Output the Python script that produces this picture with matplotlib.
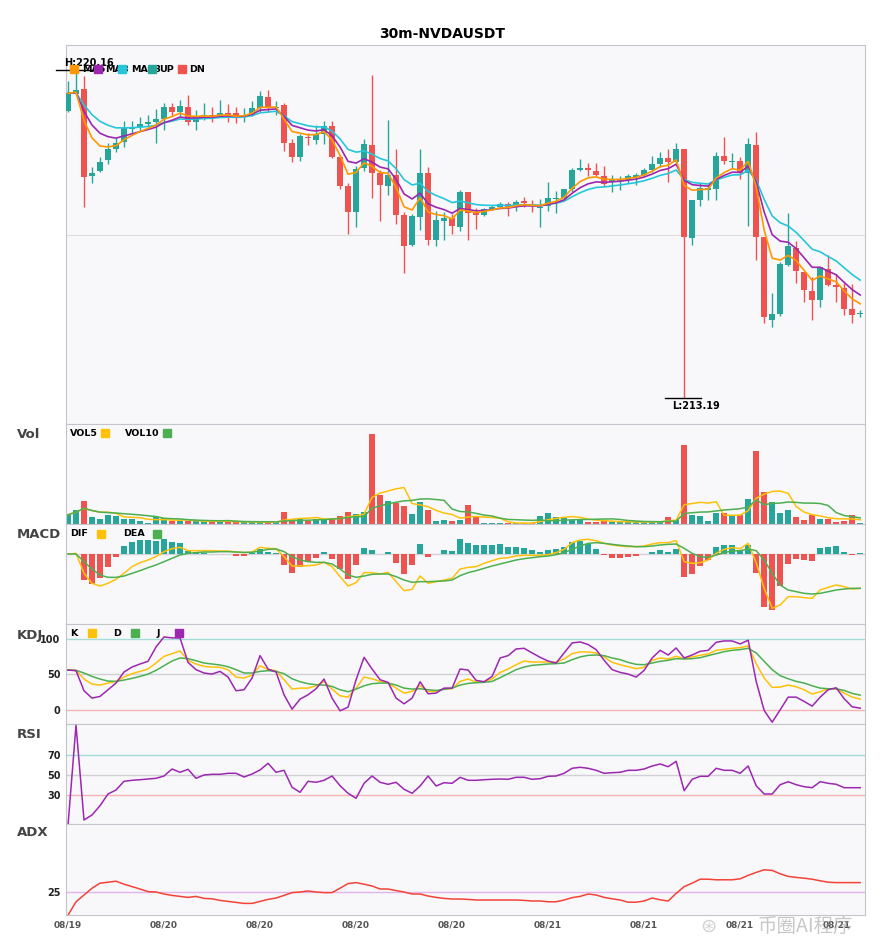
import numpy as np
import pandas as pd
import matplotlib
matplotlib.use("Agg")
import matplotlib.pyplot as plt
from matplotlib.patches import Rectangle

# 30m candles
opens = [219.30, 219.66, 219.77, 217.90, 218.02, 218.25, 218.48, 218.63, 218.92, 218.96,
         219.02, 219.06, 219.13, 219.38, 219.28, 219.38, 219.05, 219.18, 219.21, 219.21,
         219.26, 219.26, 219.16, 219.21, 219.36, 219.60, 219.36, 219.43, 218.62, 218.32,
         218.75, 218.68, 218.81, 218.98, 218.32, 217.69, 217.15, 218.08, 218.57, 217.97,
         217.70, 217.93, 217.07, 216.45, 217.03, 217.97, 216.54, 216.96, 217.02, 216.83,
         217.57, 217.12, 217.07, 217.20, 217.26, 217.32, 217.27, 217.36, 217.31, 217.22,
         217.27, 217.42, 217.44, 217.63, 218.03, 218.08, 218.02, 217.91, 217.79, 217.80,
         217.83, 217.89, 217.93, 218.04, 218.17, 218.30, 218.20, 218.49, 216.59, 217.40,
         217.61, 217.63, 218.34, 218.21, 218.23, 217.98, 218.57, 216.61, 214.84, 214.97,
         216.02, 216.38, 215.86, 215.46, 215.27, 215.93, 215.58, 215.53, 215.08, 214.97]
highs = [219.94, 220.16, 220.04, 218.10, 218.31, 218.61, 218.71, 219.09, 219.08, 219.16,
         219.21, 219.33, 219.47, 219.46, 219.53, 219.64, 219.32, 219.47, 219.39, 219.53,
         219.45, 219.39, 219.36, 219.50, 219.72, 219.75, 219.51, 219.47, 218.70, 218.81,
         218.82, 219.00, 219.08, 219.08, 218.36, 217.76, 218.12, 218.70, 220.06, 218.04,
         219.11, 218.48, 217.15, 217.10, 218.48, 218.10, 217.17, 217.15, 217.10, 217.61,
         217.58, 217.22, 217.22, 217.29, 217.36, 217.36, 217.40, 217.46, 217.40, 217.42,
         217.79, 217.60, 217.63, 218.09, 218.27, 218.18, 218.18, 218.12, 217.93, 217.91,
         217.95, 217.98, 218.08, 218.33, 218.43, 218.48, 218.62, 218.49, 217.40, 217.76,
         217.72, 218.43, 218.75, 218.41, 218.31, 218.73, 218.84, 216.61, 215.41, 216.09,
         217.12, 216.53, 215.87, 215.77, 215.98, 216.23, 215.82, 215.63, 215.61, 215.06]
lows = [219.28, 219.66, 217.26, 217.77, 218.00, 218.17, 218.42, 218.52, 218.81, 218.86,
        218.95, 218.62, 218.89, 219.18, 219.18, 219.00, 218.89, 219.11, 219.05, 219.16,
        219.07, 219.04, 219.07, 219.18, 219.28, 219.28, 219.21, 218.45, 218.20, 218.24,
        218.57, 218.59, 218.59, 218.29, 217.63, 216.68, 216.83, 218.02, 217.44, 216.96,
        217.51, 216.89, 215.85, 216.41, 216.76, 216.44, 216.41, 216.55, 216.68, 216.75,
        216.55, 216.78, 217.05, 217.19, 217.25, 217.06, 217.17, 217.26, 217.15, 216.82,
        217.17, 217.12, 217.40, 217.58, 218.01, 217.90, 217.88, 217.70, 217.58, 217.61,
        217.77, 217.72, 217.90, 218.00, 218.11, 217.79, 218.18, 213.19, 216.44, 217.27,
        217.40, 217.39, 218.17, 218.06, 217.84, 216.85, 216.12, 214.79, 214.69, 214.93,
        216.00, 215.64, 215.23, 214.84, 215.13, 215.57, 215.23, 214.95, 214.79, 214.91]
closes = [219.67, 219.75, 217.88, 217.98, 218.21, 218.49, 218.61, 218.93, 218.96, 219.02,
          219.06, 219.13, 219.38, 219.28, 219.40, 219.07, 219.16, 219.21, 219.16, 219.26,
          219.21, 219.14, 219.21, 219.36, 219.62, 219.37, 219.39, 218.62, 218.32, 218.76,
          218.71, 218.81, 218.98, 218.32, 217.69, 217.15, 218.06, 218.60, 217.97, 217.72,
          217.93, 217.07, 216.43, 217.05, 217.97, 216.54, 216.98, 217.02, 216.85, 217.57,
          217.12, 217.07, 217.20, 217.26, 217.31, 217.25, 217.36, 217.34, 217.27, 217.26,
          217.44, 217.45, 217.63, 218.03, 218.08, 218.03, 217.93, 217.74, 217.83, 217.84,
          217.90, 217.93, 218.04, 218.17, 218.30, 218.20, 218.49, 216.62, 217.40, 217.65,
          217.65, 218.34, 218.22, 218.23, 217.97, 218.60, 216.61, 214.90, 214.97, 216.04,
          216.42, 215.89, 215.48, 215.26, 215.97, 215.59, 215.54, 215.08, 214.95, 214.98]
volumes = [93, 143, 233, 70, 53, 93, 83, 53, 53, 33,
           10, 70, 56, 26, 26, 26, 33, 26, 26, 26,
           26, 16, 16, 16, 16, 26, 16, 123, 53, 63,
           33, 53, 43, 63, 83, 123, 103, 123, 903, 290,
           233, 213, 183, 103, 223, 143, 33, 43, 33, 43,
           193, 67, 10, 10, 10, 13, 7, 7, 7, 83,
           113, 70, 63, 43, 43, 23, 23, 30, 23, 17,
           17, 17, 17, 33, 23, 73, 43, 793, 93, 83,
           33, 113, 113, 93, 93, 253, 733, 323, 223, 113,
           143, 73, 43, 93, 53, 53, 23, 33, 93, 7]

dif = [0, 0.004, -0.116, -0.176, -0.192, -0.176, -0.152, -0.116, -0.076, -0.052,
       -0.036, -0.016, 0.014, 0.032, 0.040, 0.020, 0.020, 0.020, 0.020, 0.018,
       0.018, 0.012, 0.008, 0.012, 0.040, 0.034, 0.032, -0.016, -0.072, -0.072,
       -0.070, -0.066, -0.050, -0.076, -0.136, -0.192, -0.172, -0.112, -0.112, -0.120,
       -0.110, -0.166, -0.220, -0.212, -0.132, -0.176, -0.166, -0.156, -0.146, -0.090,
       -0.080, -0.076, -0.056, -0.040, -0.026, -0.022, -0.012, -0.008, -0.008, -0.008,
       -0.004, 0.008, 0.028, 0.068, 0.084, 0.088, 0.080, 0.064, 0.054, 0.048,
       0.044, 0.044, 0.048, 0.060, 0.068, 0.068, 0.080, -0.046, -0.056, -0.052,
       -0.036, 0.004, 0.028, 0.038, 0.032, 0.064, -0.052, -0.206, -0.326, -0.306,
       -0.256, -0.256, -0.262, -0.266, -0.216, -0.200, -0.186, -0.196, -0.210, -0.206]
dea = [0, 0, -0.046, -0.090, -0.126, -0.140, -0.140, -0.132, -0.116, -0.100,
       -0.082, -0.066, -0.046, -0.026, -0.006, 0.004, 0.008, 0.012, 0.012, 0.014,
       0.014, 0.012, 0.010, 0.010, 0.018, 0.028, 0.030, 0.014, -0.016, -0.036,
       -0.046, -0.050, -0.050, -0.060, -0.090, -0.126, -0.140, -0.132, -0.122, -0.120,
       -0.120, -0.136, -0.156, -0.170, -0.166, -0.166, -0.164, -0.162, -0.156, -0.130,
       -0.112, -0.100, -0.086, -0.072, -0.060, -0.048, -0.036, -0.028, -0.022, -0.016,
       -0.012, -0.004, 0.008, 0.028, 0.048, 0.064, 0.068, 0.064, 0.058, 0.052,
       0.048, 0.044, 0.044, 0.048, 0.054, 0.058, 0.060, 0.034, 0.004, -0.016,
       -0.020, -0.006, 0.008, 0.018, 0.020, 0.030, 0.020, -0.036, -0.116, -0.186,
       -0.216, -0.226, -0.236, -0.240, -0.236, -0.226, -0.216, -0.210, -0.206, -0.206]
macd_hist = [0, 0.002, -0.156, -0.182, -0.142, -0.076, -0.016, 0.048, 0.072, 0.084,
             0.084, 0.080, 0.090, 0.072, 0.064, 0.020, 0.014, 0.008, 0.002, 0.002,
             0.002, -0.010, -0.010, 0.008, 0.030, 0.014, 0.008, -0.066, -0.112, -0.076,
             -0.050, -0.022, 0.012, -0.028, -0.090, -0.148, -0.066, 0.036, 0.024, 0.002,
             0.012, -0.052, -0.120, -0.066, 0.060, -0.016, 0.002, 0.024, 0.018, 0.090,
             0.064, 0.054, 0.054, 0.054, 0.060, 0.042, 0.042, 0.036, 0.024, 0.012,
             0.024, 0.030, 0.042, 0.072, 0.078, 0.060, 0.030, -0.006, -0.022, -0.022,
             -0.016, -0.010, 0.002, 0.012, 0.024, 0.012, 0.030, -0.136, -0.120, -0.072,
             -0.036, 0.042, 0.054, 0.054, 0.024, 0.054, -0.112, -0.316, -0.336, -0.190,
             -0.060, -0.028, -0.036, -0.040, 0.036, 0.042, 0.048, 0.012, -0.004, 0.006]

k_vals = [56.1, 55.6, 43.4, 36.3, 34.9, 37.7, 40.1, 46.2, 50.9, 54.2,
          57.5, 66.0, 75.4, 79.2, 83.0, 69.8, 64.6, 61.3, 60.3, 59.9,
          56.6, 46.2, 44.8, 49.0, 62.2, 56.6, 55.2, 42.4, 29.2, 30.6,
          30.6, 33.9, 40.1, 29.2, 19.8, 17.9, 30.6, 46.2, 43.8, 40.1,
          37.7, 30.6, 23.6, 25.9, 34.4, 25.9, 25.9, 29.7, 29.7, 40.1,
          43.4, 39.1, 39.6, 43.4, 52.8, 57.5, 63.6, 68.8, 67.4, 67.4,
          67.4, 66.9, 71.7, 79.2, 81.6, 81.6, 80.2, 74.5, 66.9, 63.6,
          60.8, 58.0, 59.9, 69.8, 73.1, 71.7, 75.4, 72.1, 74.5, 76.9,
          78.7, 83.9, 85.3, 86.7, 87.7, 90.0, 65.1, 44.8, 31.6, 32.1,
          34.9, 32.5, 28.3, 22.2, 25.5, 29.7, 29.7, 23.6, 17.9, 15.1]
d_vals = [56.1, 55.6, 51.9, 47.1, 43.4, 40.5, 40.1, 42.0, 44.3, 47.1,
          50.4, 55.6, 62.2, 68.8, 73.1, 72.1, 69.3, 66.0, 64.6, 63.2,
          60.8, 56.6, 51.9, 51.9, 54.2, 55.2, 54.2, 50.9, 43.8, 39.6,
          36.8, 35.4, 34.9, 33.0, 28.3, 25.5, 29.2, 33.9, 36.8, 37.7,
          37.7, 34.9, 30.6, 29.2, 29.7, 28.3, 27.3, 28.8, 30.6, 34.9,
          37.2, 38.2, 38.7, 40.1, 45.3, 50.9, 56.6, 60.3, 62.7, 63.6,
          64.6, 65.1, 66.0, 70.7, 74.5, 76.8, 77.3, 76.4, 73.1, 70.7,
          66.9, 64.1, 63.6, 66.0, 68.4, 69.8, 72.1, 71.7, 72.1, 73.5,
          76.4, 79.2, 82.0, 83.9, 84.9, 86.7, 80.2, 68.4, 56.6, 48.1,
          43.8, 40.1, 37.7, 33.9, 30.6, 29.7, 29.7, 27.3, 23.1, 20.7]
j_vals = [56.1, 55.2, 26.9, 16.5, 18.9, 28.3, 37.7, 53.3, 60.3, 64.6,
          68.4, 88.6, 102.8, 101.4, 101.4, 66.9, 56.6, 51.9, 50.4, 54.2,
          46.2, 26.9, 28.3, 44.8, 76.4, 57.5, 53.3, 21.2, 0.9, 15.1,
          21.2, 29.7, 43.4, 16.5, -1.4, 3.8, 42.4, 74.0, 57.5, 42.4,
          38.7, 16.5, 8.5, 16.5, 39.6, 22.6, 23.6, 30.6, 30.6, 57.5,
          56.1, 41.5, 39.6, 47.1, 73.1, 76.4, 85.8, 86.7, 80.2, 74.0,
          68.8, 66.0, 80.2, 94.3, 95.7, 92.0, 84.9, 69.8, 56.6, 52.8,
          50.4, 46.2, 55.6, 73.1, 83.9, 77.3, 87.2, 73.1, 77.3, 82.5,
          83.9, 95.2, 97.1, 97.1, 92.9, 98.1, 40.1, -0.9, -17.5, 0.0,
          17.9, 17.9, 11.8, 5.2, 17.9, 28.3, 31.1, 15.6, 4.2, 2.3]
rsi_vals = [0, 100, 5.3, 10.3, 19.6, 31.3, 35.3, 44, 45, 45.6,
            46.3, 47, 49.3, 56.3, 53, 56, 47, 50.3, 51, 51,
            52, 52, 48.3, 51.3, 55.3, 62, 53, 55, 38, 33,
            44, 43, 45, 49.3, 39.6, 32, 27, 42, 49.3, 43,
            41, 43, 36, 32, 39.3, 49.3, 39.3, 42.6, 42, 48,
            45, 45, 45.6, 46, 46.3, 46, 48, 48, 46, 46.6,
            49, 49.3, 52, 57, 58, 57, 55, 52, 52.6, 53,
            55, 55, 56.3, 59.3, 61.3, 58.6, 64, 34.6, 46, 49,
            49, 57, 55, 55, 52, 59.3, 39.6, 31.3, 31.3, 40.6,
            43.6, 40.6, 38.6, 37.6, 43.6, 42, 41, 37.6, 37.6, 37.6]
adx_vals = [13.4, 20.1, 23.5, 26.9, 29.4, 29.9, 30.4, 28.9, 27.7, 26.5,
            25.2, 25.0, 24.0, 23.3, 22.8, 22.3, 22.8, 21.8, 21.6, 20.8,
            20.3, 19.8, 19.3, 19.3, 20.3, 21.3, 22.0, 23.3, 24.7, 25.0,
            25.5, 25.0, 24.7, 24.7, 26.9, 29.2, 29.7, 28.9, 28.0, 26.5,
            26.5, 25.7, 25.0, 24.0, 24.0, 23.0, 22.3, 21.8, 21.5, 21.5,
            21.3, 21.0, 21.0, 21.0, 21.0, 21.0, 21.0, 20.8, 20.5, 20.5,
            20.1, 20.1, 21.0, 22.2, 22.8, 24.0, 23.5, 22.3, 21.6, 21.0,
            19.9, 19.9, 20.5, 22.0, 21.1, 20.5, 24.3, 27.7, 29.4, 31.4,
            31.4, 31.1, 31.1, 31.1, 31.6, 33.3, 34.8, 36.1, 35.8, 34.1,
            32.8, 32.3, 31.9, 31.4, 30.6, 29.9, 29.7, 29.7, 29.7, 29.7]

tick_pos = [0, 12, 24, 36, 48, 60, 72, 84, 96]
tick_labels = ["08/19", "08/20", "08/20", "08/20", "08/20", "08/21", "08/21", "08/21", "08/21"]
ma_spans = [5, 8, 13]

UP = "#26a69a"
DN = "#ef5350"
YEL = "#ffc107"
GRN = "#4caf50"
PUR = "#9c27b0"
ORG = "#ff9800"
CYN = "#26c6da"
BG = "#f8f8fb"
EDGE = "#c4c4cc"

df = pd.DataFrame({"open": opens, "high": highs, "low": lows, "close": closes, "vol": volumes})
x = np.arange(len(df))
up = (df["close"] >= df["open"]).values
cols = np.where(up, UP, DN)
ma_fast, ma_mid, ma_slow = [df["close"].ewm(span=s, adjust=False).mean() for s in ma_spans]
vol5 = df["vol"].rolling(5, min_periods=1).mean()
vol10 = df["vol"].rolling(10, min_periods=1).mean()

W, H = 885, 950
fig = plt.figure(figsize=(W / 100, H / 100), dpi=100)


def panel(top, bottom):
    ax = fig.add_axes([66 / W, 1 - bottom / H, (865 - 66) / W, (bottom - top) / H])
    ax.set_facecolor(BG)
    for s in ax.spines.values():
        s.set_color(EDGE)
    ax.set_xlim(-0.25, 99.6)
    ax.set_xticks([])
    ax.tick_params(axis="y", length=0, pad=4, labelsize=7, labelcolor="#222")
    return ax


def legend(y, items):
    # items: (label, color, text_x, square_x) in pixels
    for label, color, tx, sx in items:
        fig.text(tx / W, 1 - y / H, label, fontsize=6.8, fontweight="bold",
                 va="center", ha="left", zorder=4)
        fig.add_artist(Rectangle((sx / W, 1 - (y + 4) / H), 8 / W, 8 / H,
                                 transform=fig.transFigure, color=color, zorder=5))


def side_label(y, text):
    fig.text(17 / W, 1 - y / H, text, fontsize=9.5, fontweight="bold",
             color="#444", va="center", ha="left")


# main candles
ax = panel(45, 424)
ax.set_ylim(212.63, 220.70)
ax.set_yticks([])
ax.axhline((212.63 + 220.70) / 2, color="#dedee2", lw=0.8, zorder=0)
body_lo = np.minimum(df["open"], df["close"])
body_h = np.maximum((df["close"] - df["open"]).abs(), 0.03)
ax.vlines(x, df["low"], df["high"], colors=cols, lw=1, zorder=2)
ax.bar(x, body_h, bottom=body_lo, width=0.74, color=cols, zorder=3)
ax.plot(x, ma_slow, color=CYN, lw=1.2, zorder=4)
ax.plot(x, ma_mid, color=PUR, lw=1.2, zorder=4)
ax.plot(x, ma_fast, color=ORG, lw=1.2, zorder=4)

hi_i = int(df["high"].idxmax())
lo_i = int(df["low"].idxmin())
hi_v = df["high"].max()
lo_v = df["low"].min()
ax.plot([hi_i - 2.5, hi_i + 2.0], [hi_v, hi_v], color="black", lw=1, clip_on=False, zorder=5)
ax.text(hi_i - 1.5, hi_v + 0.04, f"H:{hi_v:.2f}", fontsize=7, fontweight="bold",
        va="bottom", ha="left", zorder=5)
ax.plot([lo_i - 2.4, lo_i + 2.1], [lo_v, lo_v], color="black", lw=1, zorder=5)
ax.text(lo_i - 1.5, lo_v - 0.08, f"L:{lo_v:.2f}", fontsize=7, fontweight="bold",
        va="top", ha="left", zorder=5)
legend(69, [(f"MA{ma_spans[0]}", ORG, 82, 70), (f"MA{ma_spans[1]}", PUR, 105, 94),
            (f"MA{ma_spans[2]}", CYN, 131, 118), ("UP", UP, 159, 148), ("DN", DN, 189, 178)])

# volume
ax = panel(424, 524)
ax.set_ylim(0, 1000)
ax.set_yticks([])
ax.bar(x, df["vol"], width=0.74, color=cols, zorder=2)
ax.plot(x, vol5, color=YEL, lw=1.1, zorder=3)
ax.plot(x, vol10, color=GRN, lw=1.1, zorder=3)
side_label(435, "Vol")
legend(433, [("VOL5", YEL, 70, 101), ("VOL10", GRN, 125, 163)])

# MACD
ax = panel(524, 624)
ax.set_ylim(-0.42, 0.18)
ax.set_yticks([])
ax.axhline(0, color="#d4d4d8", lw=1, zorder=1)
hist = np.array(macd_hist)
ax.bar(x, hist, width=0.74, color=np.where(hist >= 0, UP, DN), zorder=2)
ax.plot(x, dif, color=YEL, lw=1.1, zorder=3)
ax.plot(x, dea, color=GRN, lw=1.1, zorder=3)
side_label(535, "MACD")
legend(534, [("DIF", YEL, 70, 97), ("DEA", GRN, 123, 153)])

# KDJ
ax = panel(624, 724)
ax.set_ylim(-20, 121)
ax.set_yticks([0, 50, 100])
ax.set_yticklabels(["0", "50", "100"], fontweight="bold")
ax.axhline(100, color="#a6dcd8", lw=1, zorder=1)
ax.axhline(50, color="#d0d0d4", lw=1, zorder=1)
ax.axhline(0, color="#f4b4b4", lw=1, zorder=1)
ax.plot(x, k_vals, color=YEL, lw=1.1, zorder=3)
ax.plot(x, d_vals, color=GRN, lw=1.1, zorder=3)
ax.plot(x, j_vals, color=PUR, lw=1.1, zorder=3)
side_label(635, "KDJ")
legend(633, [("K", YEL, 70, 88), ("D", GRN, 113, 131), ("J", PUR, 157, 175)])

# RSI
ax = panel(724, 824)
ax.set_ylim(1.3, 101.3)
ax.set_yticks([30, 50, 70])
ax.set_yticklabels(["30", "50", "70"], fontweight="bold")
ax.axhline(70, color="#a6dcd8", lw=1, zorder=1)
ax.axhline(50, color="#d0d0d4", lw=1, zorder=1)
ax.axhline(30, color="#f4b4b4", lw=1, zorder=1)
ax.plot(x, rsi_vals, color=PUR, lw=1.1, zorder=3)
side_label(735, "RSI")

# ADX
ax = panel(824, 915)
ax.set_ylim(13.5, 59)
ax.set_yticks([25])
ax.set_yticklabels(["25"], fontweight="bold")
ax.axhline(25, color="#e2b4ea", lw=1, zorder=1)
ax.plot(x, adx_vals, color="#f44336", lw=1.1, zorder=3)
ax.set_xticks(tick_pos)
ax.set_xticklabels(tick_labels, fontsize=6.5, fontweight="bold", color="#555")
ax.tick_params(axis="x", length=0, pad=4)
side_label(833, "ADX")

fig.text(0.5, 1 - 34 / H, "30m-NVDAUSDT", ha="center", va="center",
         fontsize=10, fontweight="bold")

# watermark
fig.text(758 / W, 1 - 926 / H, "币圈AI程序", fontsize=14, color="#9a9a9a", alpha=0.55,
         family=["Noto Sans CJK SC", "DejaVu Sans"], va="center", ha="left")
fig.text(700 / W, 1 - 926 / H, "⊛", fontsize=14, color="#9a9a9a", alpha=0.45,
         va="center", ha="left")

fig.savefig("out.png", dpi=100, facecolor="white")
